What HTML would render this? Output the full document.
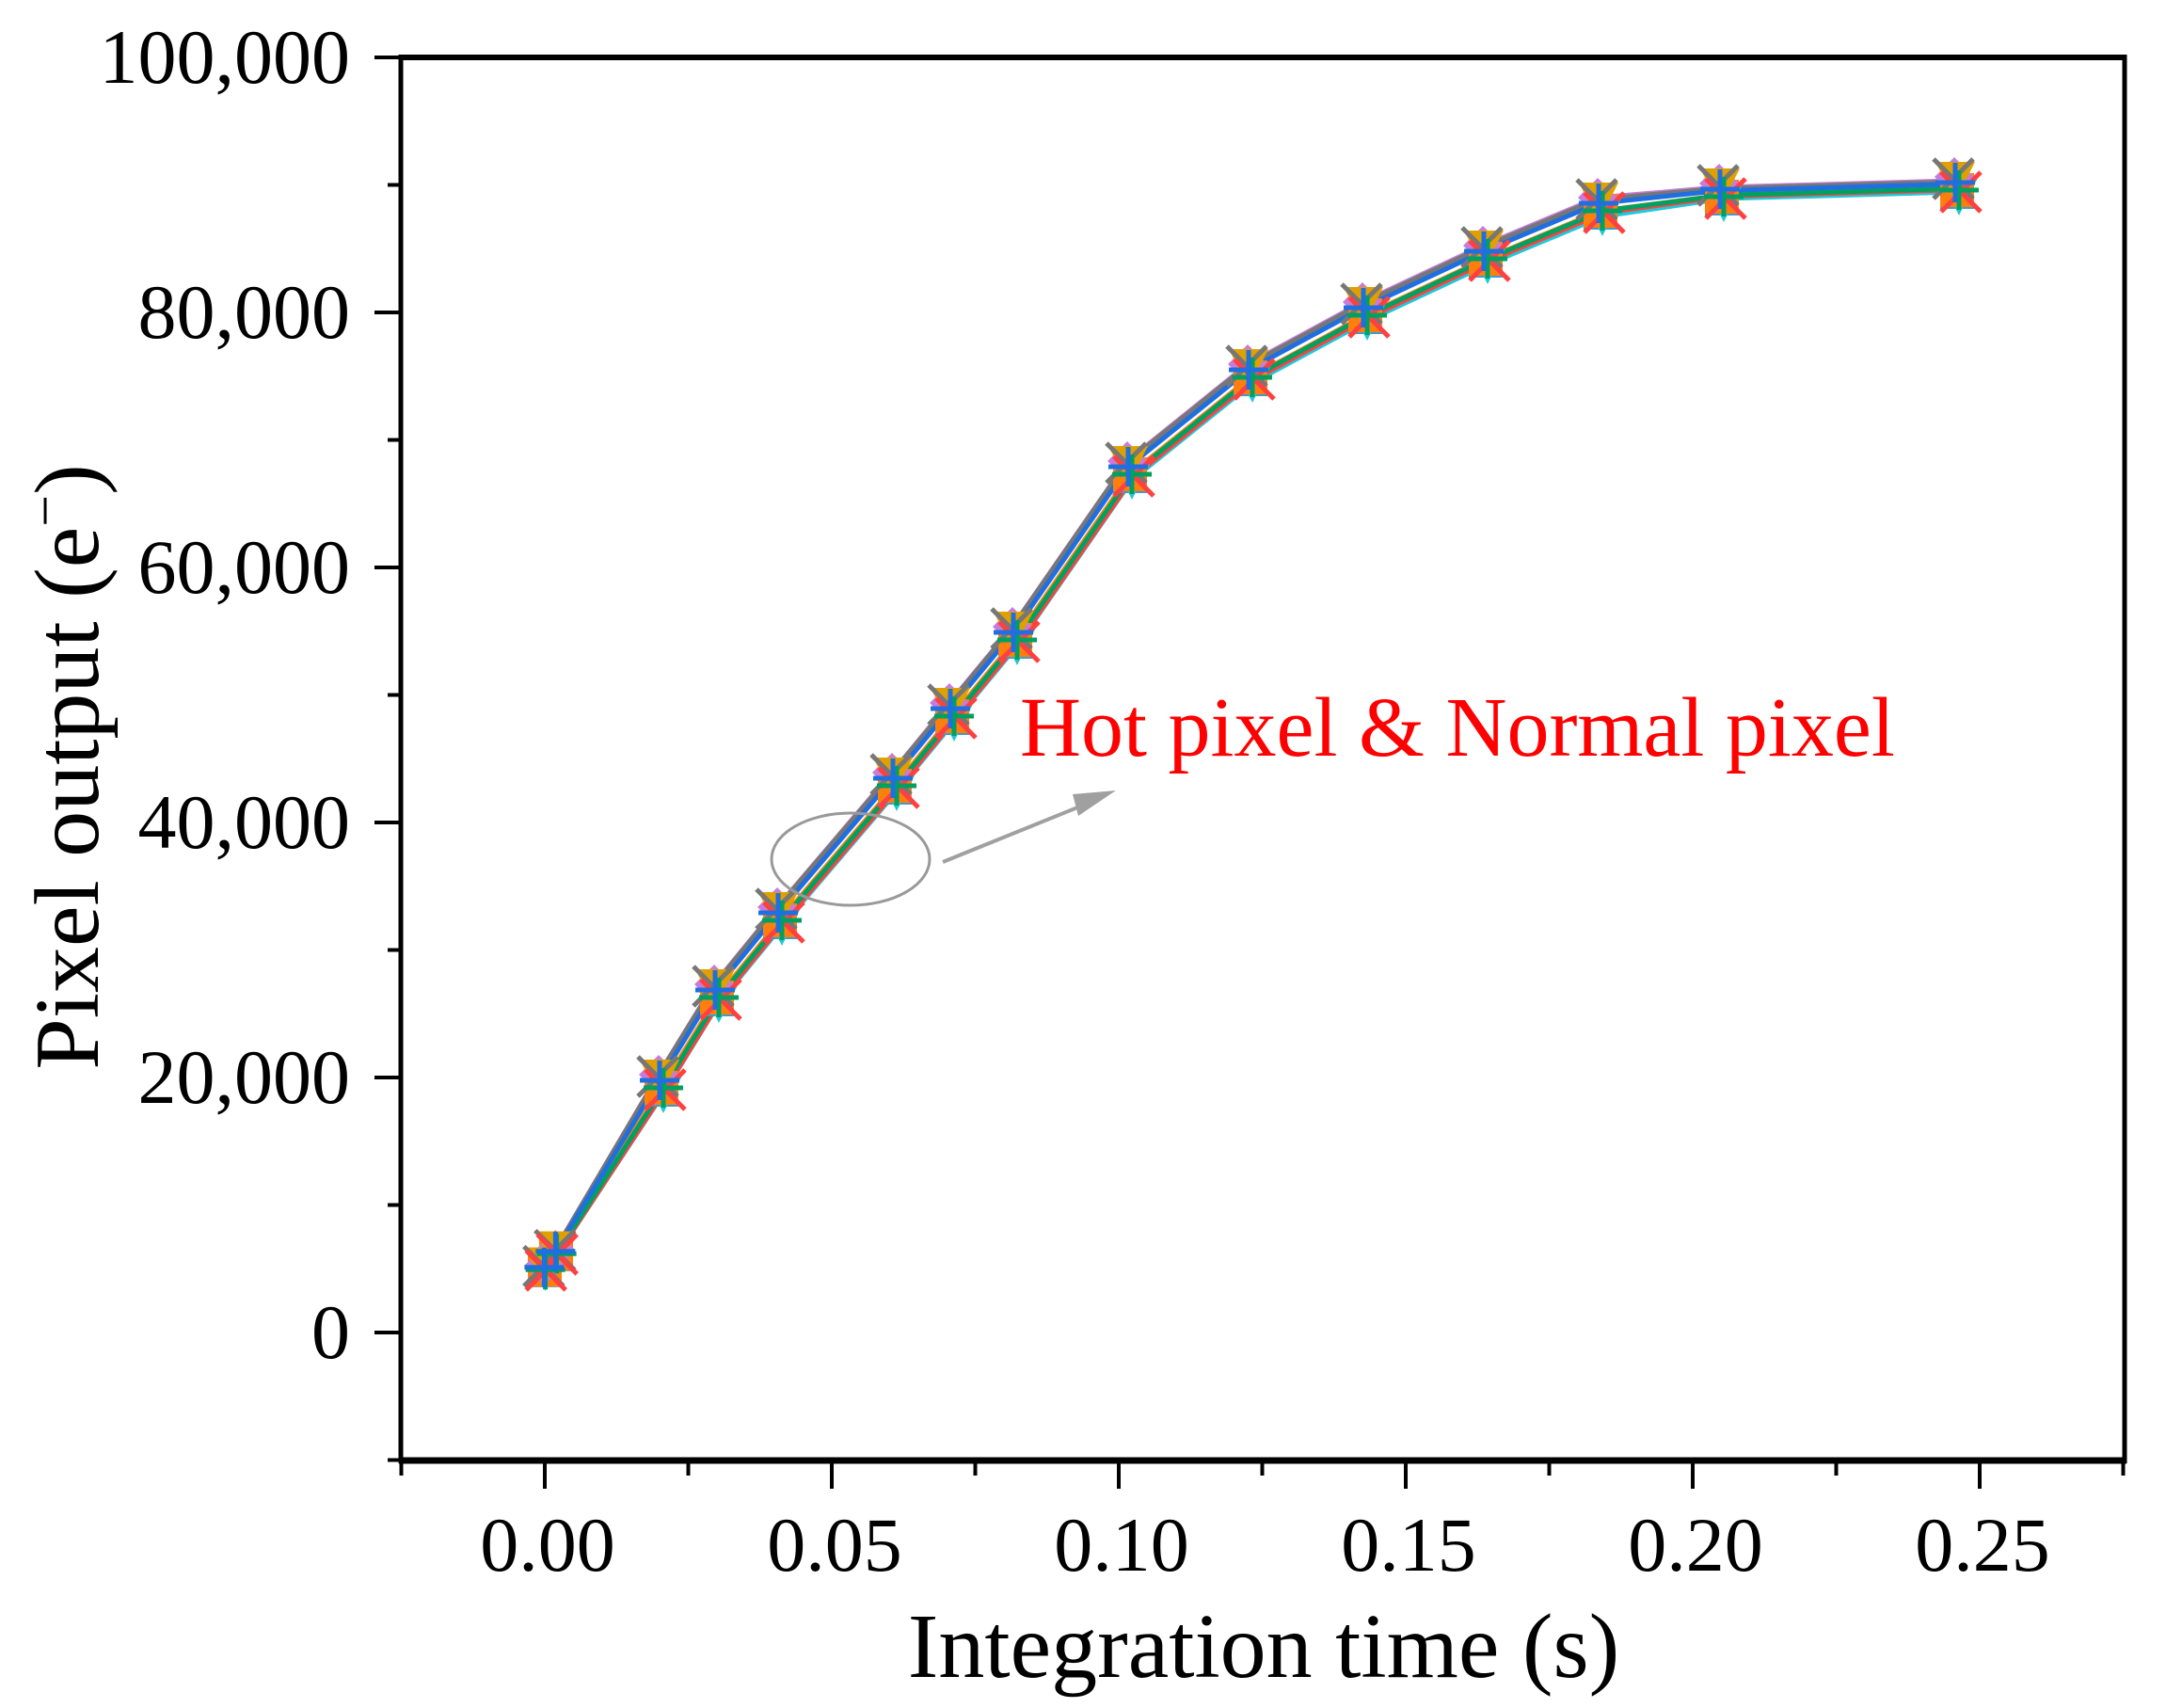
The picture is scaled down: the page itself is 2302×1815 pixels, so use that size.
<!DOCTYPE html>
<html><head><meta charset="utf-8">
<style>
html,body{margin:0;padding:0;background:#fff;}
svg{display:block;}
text{font-family:"Liberation Serif",serif;}
</style></head>
<body>
<svg id="s" width="2302" height="1815" viewBox="0 0 2302 1815" xmlns="http://www.w3.org/2000/svg">
<rect width="2302" height="1815" fill="#fff"/>
<g id="data"></g>
<ellipse cx="904" cy="913" rx="84" ry="49" fill="none" stroke="#999" stroke-width="3"/>
<line x1="1002" y1="916" x2="1160" y2="852" stroke="#a0a0a0" stroke-width="4"/>
<polygon points="1186,840 1146,867 1140,844" fill="#a0a0a0"/>
<text x="1084" y="803" font-size="90" fill="#ff0000">Hot pixel &amp; Normal pixel</text>
<g stroke="#000" fill="none">
<line x1="426" y1="61" x2="2260" y2="61" stroke-width="6"/>
<line x1="424" y1="1552" x2="2260" y2="1552" stroke-width="7"/>
<line x1="426" y1="58" x2="426" y2="1555" stroke-width="5"/>
<line x1="2258" y1="58" x2="2258" y2="1555" stroke-width="5"/>
</g>
<g id="ticks" stroke="#000" stroke-width="4"></g>
<g font-size="82" fill="#000" text-anchor="end">
<text x="372" y="88">100,000</text>
<text x="372" y="359">80,000</text>
<text x="372" y="630">60,000</text>
<text x="372" y="901">40,000</text>
<text x="372" y="1172">20,000</text>
<text x="372" y="1443">0</text>
</g>
<g font-size="82" fill="#000" text-anchor="middle">
<text x="582" y="1669">0.00</text>
<text x="887" y="1669">0.05</text>
<text x="1192" y="1669">0.10</text>
<text x="1497" y="1669">0.15</text>
<text x="1802" y="1669">0.20</text>
<text x="2107" y="1669">0.25</text>
</g>
<text x="1343" y="1782" font-size="98" text-anchor="middle">Integration time (s)</text>
<text transform="translate(104,815) rotate(-90)" font-size="98" text-anchor="middle">Pixel output (e<tspan dy="-36" font-size="60">−</tspan><tspan dy="36">)</tspan></text>
</svg>
<script>
var NS="http://www.w3.org/2000/svg";
function el(n,a,p){var e=document.createElementNS(NS,n);for(var k in a)e.setAttribute(k,a[k]);p.appendChild(e);return e;}
var tk=document.getElementById("ticks");
for(var i=-1;i<=10;i++){var y=1416-i*135.5;var maj=(i%2==0);if(y<60||y>1553)continue;
 el("line",{x1:maj?398:412,y1:y,x2:426,y2:y},tk);}
for(var j=-1;j<=11;j++){var x=579+j*152.5;if(x<424||x>2260)continue;var maj=(j%2==0);
 el("line",{x1:x,y1:1552,x2:x,y2:maj?1582:1568},tk);}
var X=[579,591,703,762,829,951,1012,1079,1201,1329,1451,1579,1701,1830,2080];
var Y=[1348,1331,1152,1056,974,831,757,676,500,397,331,271,220,205,198];
var g=document.getElementById("data");
var ser=[
 {c:"#4499cc",m:"sq",dx:0,dy:6},
 {c:"#20c8d8",m:"tri",dx:2,dy:10},
 {c:"#ff7f0e",m:"sq",dx:0,dy:4},
 {c:"#c77cdb",m:"dia",dx:-3,dy:-10},
 {c:"#e0a000",m:"tri",dx:-2,dy:-5},
 {c:"#777777",m:"x",dx:-4,dy:-8},
 {c:"#ff4040",m:"x",dx:4,dy:6},
 {c:"#00a060",m:"+",dx:2,dy:4},
 {c:"#1f6fe0",m:"+",dx:-2,dy:-4}
];
ser.forEach(function(s){
 var pts=X.map(function(x,i){var f=i<2?0.3:1;return (x+s.dx*f)+","+(Y[i]+s.dy*f*(i>12?0.6:1));}).join(" ");
 el("polyline",{points:pts,fill:"none",stroke:s.c,"stroke-width":5},g);
});
ser.forEach(function(s){
 X.forEach(function(x0,i){var f=i<2?0.3:1;var x=x0+s.dx*f,y=Y[i]+s.dy*f,r=21;
  if(s.m=="sq")el("rect",{x:x-r+3,y:y-r+3,width:2*r-6,height:2*r-6,fill:s.c},g);
  else if(s.m=="dia")el("polygon",{points:(x)+","+(y-r)+" "+(x+r)+","+y+" "+x+","+(y+r)+" "+(x-r)+","+y,fill:s.c},g);
  else if(s.m=="tri")el("polygon",{points:(x-r)+","+(y-r)+" "+(x+r)+","+(y-r)+" "+x+","+(y+r),fill:s.c},g);
  else if(s.m=="x"){el("line",{x1:x-r,y1:y-r,x2:x+r,y2:y+r,stroke:s.c,"stroke-width":5},g);el("line",{x1:x-r,y1:y+r,x2:x+r,y2:y-r,stroke:s.c,"stroke-width":5},g);}
  else {el("line",{x1:x-r,y1:y,x2:x+r,y2:y,stroke:s.c,"stroke-width":5},g);el("line",{x1:x,y1:y-r,x2:x,y2:y+r,stroke:s.c,"stroke-width":5},g);}
 });
});
</script>
</body></html>
